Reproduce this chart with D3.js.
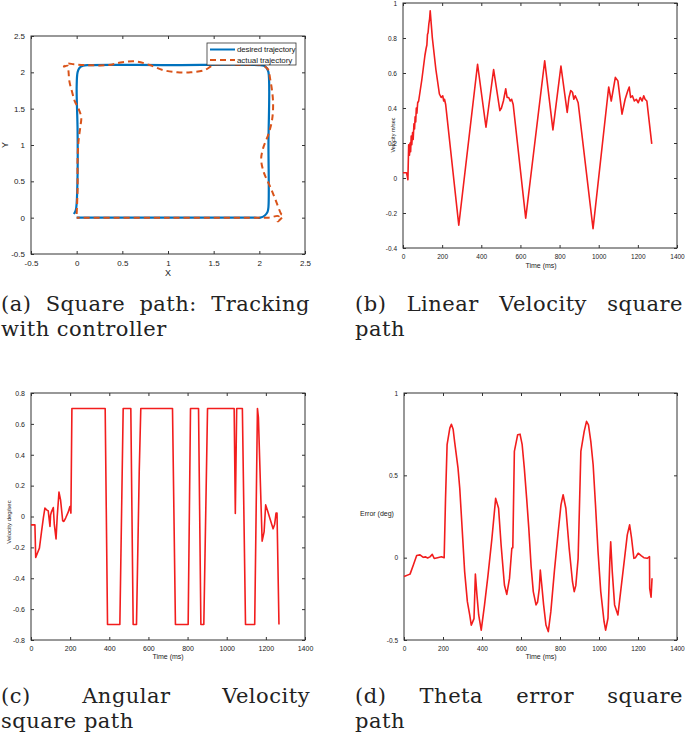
<!DOCTYPE html>
<html lang="en">
<head>
<meta charset="utf-8">
<title>Square path results</title>
<script src="https://d3js.org/d3.v7.min.js"></script>
<style>
  body { margin: 0; background: #fff; }
  .tick text { font-family: "Liberation Sans", Arial, sans-serif; fill: #222; }
  .tick line { stroke: #333; }
  .cap { font-family: "DejaVu Serif", serif; font-size: 21px; letter-spacing: 0.5px; fill: #222; }
</style>
</head>
<body>
<script>
const width = 685;
const height = 736;

// (a) square path, desired vs actual
const desiredX = [-0.03, -0.01, 0.00, 0.01, 0.01, 0.00, 0.01, 0.03, 0.07, 0.13, 1.00, 1.99, 2.05, 2.08, 2.10, 2.10, 2.10, 2.09, 2.06, 2.01, 1.95, 1.00, 0.00];
const desiredY = [0.05, 0.10, 0.20, 0.60, 1.20, 1.80, 2.00, 2.06, 2.09, 2.10, 2.10, 2.10, 2.09, 2.06, 2.00, 1.00, 0.15, 0.08, 0.03, 0.00, 0.00, 0.00, 0.00];
const actualX = [0.00, 0.01, 0.01, 0.02, 0.04, 0.05, 0.02, -0.02, -0.05, -0.08, -0.09, -0.10, -0.14, -0.10, -0.03, 0.10, 0.35, 0.50, 0.65, 0.80, 0.95, 1.10, 1.25, 1.40, 1.50, 1.60, 1.80, 2.02, 2.09, 2.12, 2.15, 2.14, 2.10, 2.04, 2.02, 2.05, 2.11, 2.16, 2.20, 2.24, 2.26, 2.20, 2.21, 2.10, 1.90, 1.00, 0.00];
const actualY = [0.05, 0.40, 0.80, 1.05, 1.25, 1.38, 1.50, 1.60, 1.73, 1.88, 2.02, 2.09, 2.08, 2.12, 2.11, 2.10, 2.10, 2.14, 2.15, 2.10, 2.03, 2.00, 2.00, 2.03, 2.10, 2.11, 2.10, 2.10, 2.05, 1.90, 1.60, 1.35, 1.15, 0.95, 0.80, 0.62, 0.45, 0.30, 0.17, 0.05, 0.03, -0.05, 0.02, 0.00, 0.00, 0.00, 0.00];
const squareTicks = [-0.5, 0, 0.5, 1, 1.5, 2, 2.5];

// (b) linear velocity
const linTime = [0, 18, 22, 25, 29, 33, 36, 39, 42, 45, 49, 52, 56, 59, 62, 65, 68, 71, 75, 80, 88, 96, 104, 112, 118, 122, 125, 128, 132, 136, 139, 150, 168, 186, 195, 203, 208, 212, 218, 285, 381, 424, 463, 495, 503, 513, 525, 532, 540, 548, 555, 563, 627, 724, 766, 807, 839, 848, 857, 866, 873, 880, 888, 895, 971, 1051, 1064, 1085, 1098, 1119, 1135, 1149, 1156, 1163, 1172, 1182, 1192, 1202, 1212, 1222, 1230, 1237, 1246, 1271];
const linVel = [0.03, 0.03, 0.01, -0.01, 0.19, 0.13, 0.20, 0.15, 0.24, 0.19, 0.26, 0.22, 0.31, 0.28, 0.35, 0.32, 0.40, 0.37, 0.43, 0.44, 0.50, 0.56, 0.63, 0.70, 0.74, 0.76, 0.82, 0.83, 0.88, 0.91, 0.955, 0.80, 0.62, 0.48, 0.46, 0.47, 0.44, 0.45, 0.42, -0.27, 0.65, 0.29, 0.62, 0.385, 0.40, 0.44, 0.51, 0.46, 0.46, 0.44, 0.45, 0.42, -0.23, 0.67, 0.275, 0.64, 0.375, 0.46, 0.50, 0.49, 0.45, 0.47, 0.45, 0.43, -0.29, 0.52, 0.44, 0.575, 0.555, 0.365, 0.45, 0.50, 0.52, 0.46, 0.47, 0.44, 0.45, 0.43, 0.46, 0.44, 0.47, 0.45, 0.44, 0.195];

// (c) angular velocity
const angTime = [0, 20, 24, 32, 43, 54, 63, 71, 80, 88, 97, 100, 105, 114, 119, 128, 134, 143, 151, 162, 168, 177, 190, 199, 204, 209, 379, 391, 454, 471, 510, 522, 539, 553, 561, 723, 738, 803, 815, 856, 868, 883, 902, 1038, 1044, 1051, 1080, 1096, 1143, 1157, 1162, 1181, 1191, 1199, 1208, 1220, 1237, 1245, 1252, 1257, 1267];
const angVel = [-0.054, -0.054, -0.266, -0.24, -0.205, -0.097, -0.01, 0.054, 0.043, 0.036, -0.065, 0.01, 0.032, 0.058, -0.05, -0.145, 0.0, 0.158, 0.108, -0.028, -0.032, -0.01, 0.028, 0.065, 0.022, 0.70, 0.70, -0.70, -0.70, 0.70, 0.70, -0.70, -0.70, 0.29, 0.70, 0.70, -0.70, -0.70, 0.70, 0.70, -0.70, -0.70, 0.70, 0.70, 0.02, 0.70, 0.70, -0.70, -0.70, 0.70, 0.64, -0.16, -0.10, 0.075, 0.04, -0.01, -0.08, -0.05, 0.022, 0.022, -0.70];

// (d) theta error
const errTime = [0, 31, 48, 65, 82, 99, 111, 121, 133, 145, 155, 172, 192, 206, 213, 221, 235, 243, 252, 260, 277, 286, 298, 311, 325, 337, 345, 359, 366, 374, 383, 396, 413, 430, 451, 470, 485, 498, 515, 527, 541, 553, 558, 566, 583, 595, 606, 617, 629, 640, 652, 663, 677, 685, 694, 699, 706, 716, 728, 740, 753, 771, 791, 805, 816, 830, 847, 864, 873, 881, 893, 907, 924, 936, 946, 958, 970, 982, 995, 1009, 1026, 1034, 1046, 1056, 1060, 1068, 1080, 1097, 1111, 1131, 1145, 1157, 1167, 1179, 1187, 1201, 1216, 1230, 1247, 1259, 1260, 1267, 1272];
const errVal = [-0.115, -0.10, -0.044, 0.013, 0.017, 0.002, 0.005, -0.002, 0.005, 0.02, -0.005, 0.0, 0.006, 0.0, 0.36, 0.686, 0.787, 0.81, 0.78, 0.70, 0.544, 0.42, 0.18, -0.085, -0.267, -0.348, -0.41, -0.37, -0.10, -0.226, -0.348, -0.44, -0.287, -0.115, 0.118, 0.36, 0.30, 0.077, -0.166, -0.223, -0.126, 0.057, 0.06, 0.645, 0.747, 0.75, 0.686, 0.544, 0.36, 0.178, -0.055, -0.206, -0.287, -0.27, -0.186, -0.075, -0.16, -0.287, -0.409, -0.449, -0.328, -0.085, 0.159, 0.321, 0.382, 0.30, 0.057, -0.146, -0.206, -0.17, -0.004, 0.645, 0.767, 0.828, 0.807, 0.706, 0.564, 0.321, 0.037, -0.206, -0.389, -0.44, -0.368, -0.004, 0.097, -0.085, -0.287, -0.348, -0.206, -0.004, 0.138, 0.199, 0.118, -0.004, 0.0, 0.027, 0.012, 0.0, -0.004, 0.006, -0.186, -0.24, -0.125];

const timeTicks = [0, 200, 400, 600, 800, 1000, 1200, 1400];
const linTicks = [-0.4, -0.2, 0, 0.2, 0.4, 0.6, 0.8, 1];
const angTicks = [-0.8, -0.6, -0.4, -0.2, 0, 0.2, 0.4, 0.6, 0.8];
const errTicks = [-0.5, 0, 0.5, 1];

const captions = [
  ["(a) Square path: Tracking", "with controller"],
  ["(b) Linear Velocity square", "path"],
  ["(c) Angular Velocity", "square path"],
  ["(d) Theta error square", "path"]
];

const svg = d3.select("body").append("svg")
  .attr("width", width)
  .attr("height", height);

// one boxed matlab-style panel, ticks point inwards on all four sides
function panel(box, xDom, yDom, xTicks, yTicks, fs) {
  const x = d3.scaleLinear().domain(xDom).range([box.l, box.r]);
  const y = d3.scaleLinear().domain(yDom).range([box.b, box.t]);
  const g = svg.append("g");
  const fmt = d => String(d);

  g.append("g").attr("transform", "translate(0," + box.b + ")")
    .call(d3.axisBottom(x).tickValues(xTicks).tickFormat(fmt).tickSize(-3).tickPadding(6))
    .call(a => a.select(".domain").remove());
  g.append("g").attr("transform", "translate(0," + box.t + ")")
    .call(d3.axisTop(x).tickValues(xTicks).tickFormat("").tickSize(-3))
    .call(a => a.select(".domain").remove());
  g.append("g").attr("transform", "translate(" + box.l + ",0)")
    .call(d3.axisLeft(y).tickValues(yTicks).tickFormat(fmt).tickSize(-3).tickPadding(6))
    .call(a => a.select(".domain").remove());
  g.append("g").attr("transform", "translate(" + box.r + ",0)")
    .call(d3.axisRight(y).tickValues(yTicks).tickFormat("").tickSize(-3))
    .call(a => a.select(".domain").remove());
  g.selectAll(".tick text").attr("font-size", fs);

  g.append("rect")
    .attr("x", box.l).attr("y", box.t)
    .attr("width", box.r - box.l).attr("height", box.b - box.t)
    .attr("fill", "none").attr("stroke", "#333").attr("stroke-width", 1);
  return { g, x, y };
}

function label(txt, x, y, fs, rot) {
  svg.append("text")
    .attr("transform", "translate(" + x + "," + y + ")" + (rot ? " rotate(-90)" : ""))
    .attr("text-anchor", "middle")
    .attr("font-family", "Liberation Sans, Arial, sans-serif")
    .attr("font-size", fs)
    .attr("fill", "#222")
    .text(txt);
}

function series(p, xs, ys, color, sw, dash, curve) {
  const pts = xs.map((v, i) => [v, ys[i]]);
  const line = d3.line().x(d => p.x(d[0])).y(d => p.y(d[1]));
  if (curve) line.curve(curve);
  p.g.append("path")
    .attr("d", line(pts))
    .attr("fill", "none")
    .attr("stroke", color)
    .attr("stroke-width", sw)
    .attr("stroke-linejoin", "round")
    .attr("stroke-dasharray", dash || null);
}

// (a)
const pa = panel({ l: 31, r: 305, t: 36, b: 254 }, [-0.5, 2.5], [-0.5, 2.5], squareTicks, squareTicks, 8);
series(pa, desiredX, desiredY, "#0072BD", 2.2, null, d3.curveCatmullRom.alpha(0.5));
series(pa, actualX, actualY, "#D95319", 2, "6,4", d3.curveCatmullRom.alpha(0.5));
label("X", 168, 276, 9);
label("Y", 8, 145, 9, true);

// legend
const lg = pa.g.append("g");
lg.append("rect").attr("x", 207).attr("y", 43).attr("width", 89).attr("height", 22)
  .attr("fill", "#fff").attr("stroke", "#333").attr("stroke-width", 0.8);
[["desired trajectory", "#0072BD", null], ["actual trajectory", "#D95319", "6,4"]].forEach((e, i) => {
  const yy = 49.5 + i * 10.5;
  lg.append("line").attr("x1", 210).attr("x2", 235).attr("y1", yy).attr("y2", yy)
    .attr("stroke", e[1]).attr("stroke-width", 2).attr("stroke-dasharray", e[2]);
  lg.append("text").attr("x", 237).attr("y", yy + 2.8)
    .attr("font-family", "Liberation Sans, Arial, sans-serif").attr("font-size", 8)
    .attr("textLength", e[0].length * 3.25).attr("fill", "#222").text(e[0]);
});

// (b)
const pb = panel({ l: 403, r: 677, t: 3, b: 248 }, [0, 1400], [-0.4, 1], timeTicks, linTicks, 6.5);
series(pb, linTime, linVel, "#f21d1d", 1.6);
label("Time (ms)", 541, 268, 7);
label("Velocity m/sec", 395, 135, 5.5, true);

// (c)
const pc = panel({ l: 31, r: 305, t: 393, b: 640 }, [0, 1400], [-0.8, 0.8], timeTicks, angTicks, 7);
series(pc, angTime, angVel, "#f21d1d", 1.6);
label("Time (ms)", 168, 659, 7);
label("Velocity deg/sec", 11, 522, 6, true);

// (d)
const pd = panel({ l: 404, r: 677, t: 393, b: 640 }, [0, 1400], [-0.5, 1], timeTicks, errTicks, 6.5);
series(pd, errTime, errVal, "#f21d1d", 1.6);
label("Time (ms)", 541, 659, 7);
label("Error (deg)", 377, 516, 7);

// captions: first line justified across the column, second line ragged
function caption(lines, x0, w, base) {
  const words = lines[0].split(" ");
  const t = svg.append("text").attr("class", "cap").attr("y", base);
  const spans = words.map(wd => t.append("tspan").text(wd));
  const widths = spans.map(s => s.node().getComputedTextLength());
  const gap = (w - d3.sum(widths)) / (words.length - 1);
  let cx = x0;
  spans.forEach((s, i) => { s.attr("x", cx); cx += widths[i] + gap; });
  svg.append("text").attr("class", "cap").attr("x", x0).attr("y", base + 25).text(lines[1]);
}
caption(captions[0], 1, 309, 311);
caption(captions[1], 355, 328, 311);
caption(captions[2], 1, 309, 703);
caption(captions[3], 355, 328, 703);
</script>
</body>
</html>
